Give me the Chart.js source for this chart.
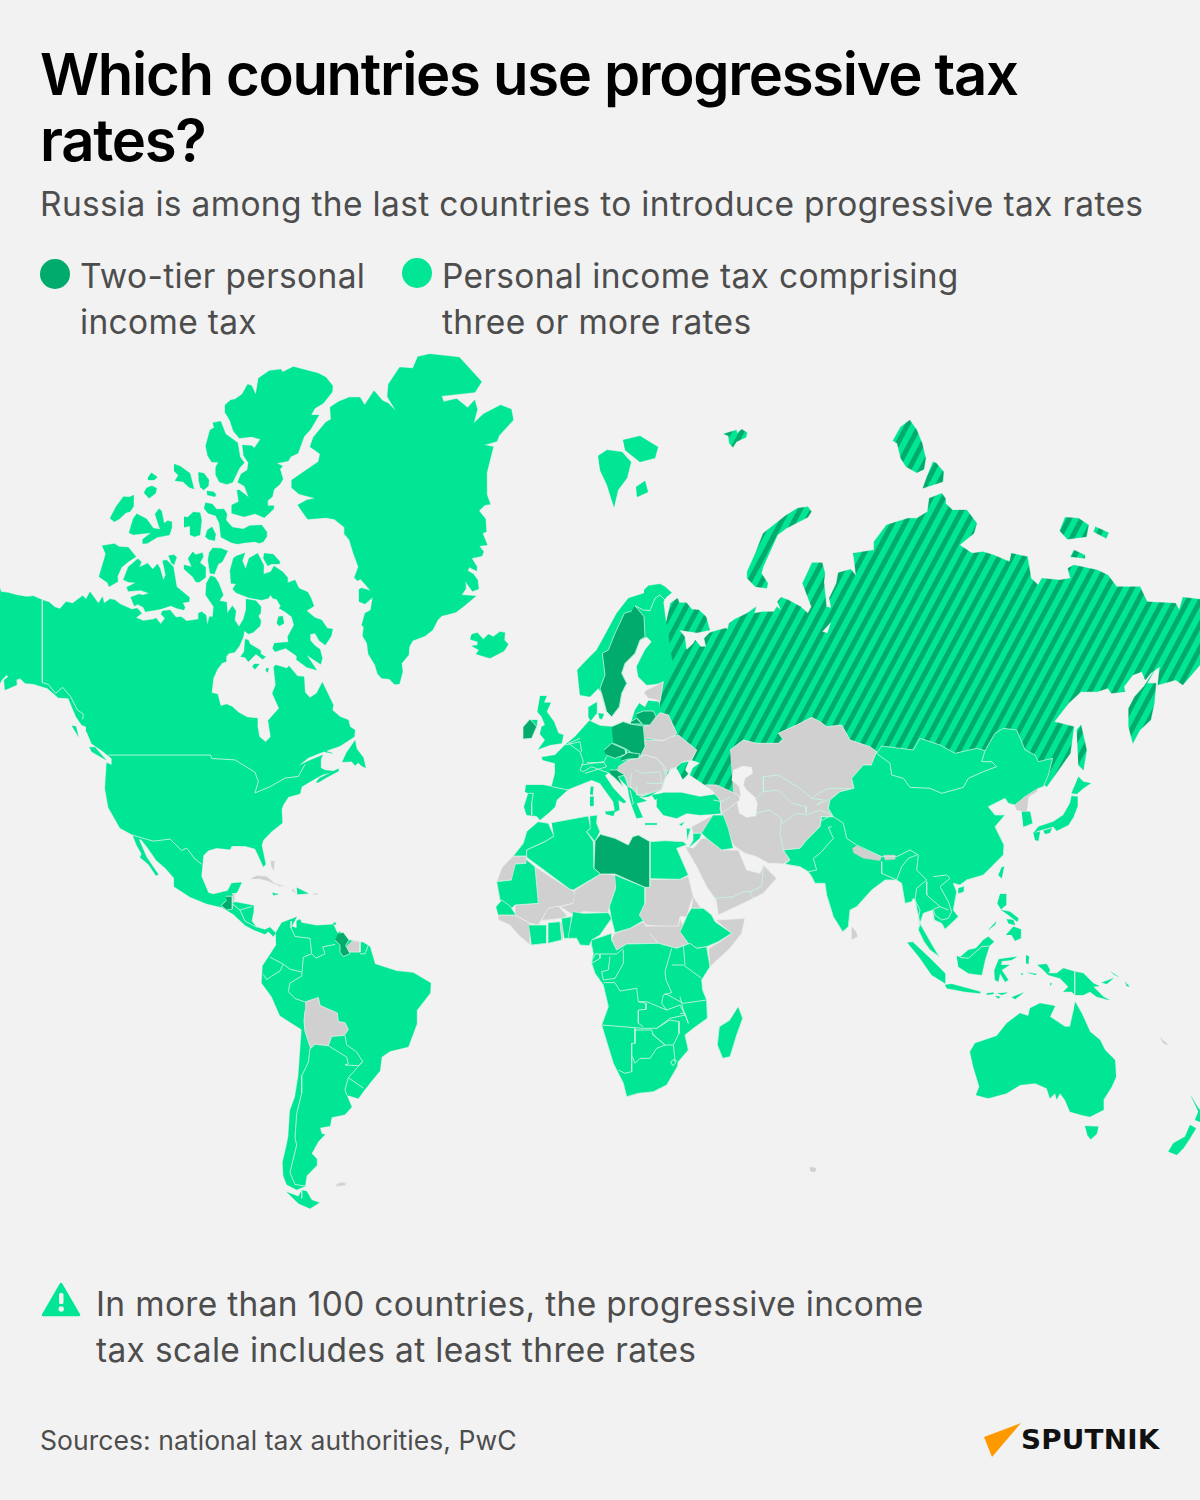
<!DOCTYPE html>
<html>
<head>
<meta charset="utf-8">
<title>Which countries use progressive tax rates?</title>
<script src="https://cdn.jsdelivr.net/npm/chart.js@4"></script>
<style>
  html, body { margin: 0; padding: 0; background: #F2F2F2; }
  #page { position: relative; width: 1200px; height: 1500px; overflow: hidden; background: #F2F2F2; font-family: Inter, sans-serif; color: #4D4D4D; }
  .t { position: absolute; white-space: nowrap; margin: 0; }
  h1.t { font-size: 58px; font-weight: 600; color: #000; line-height: 66px; letter-spacing: -1.31px; }
  .big { font-size: 33.5px; line-height: 46px; font-weight: 400; letter-spacing: 0.33px; }
  .dot { position: absolute; width: 30px; height: 30px; border-radius: 50%; }
  canvas { position: absolute; left: 0; top: 340px; }
  svg { position: absolute; }
</style>
</head>
<body>
<div id="page">
  <h1 class="t" style="left:40px;top:41px">Which countries use progressive tax<br>rates?</h1>
  <p class="t big" id="sub" style="left:40px;top:181px">Russia is among the last countries to introduce progressive tax rates</p>
  <div class="dot" style="left:40px;top:259px;background:#00AB6C"></div>
  <p class="t big" style="left:80px;top:253px">Two-tier personal<br>income tax</p>
  <div class="dot" style="left:402px;top:258px;background:#00E695"></div>
  <p class="t big" style="left:442px;top:253px">Personal income tax comprising<br>three or more rates</p>
  <canvas id="mapa" width="1200" height="880"></canvas>
  <svg style="left:42px;top:1282px" width="40" height="36" viewBox="0 0 40 36">
    <path d="M19 2 L37 33 L1 33 Z" fill="#00E695" stroke="#00E695" stroke-width="2.5" stroke-linejoin="round"/>
    <rect x="17" y="11" width="4.5" height="11" rx="1.5" fill="#F2F2F2"/>
    <circle cx="19.2" cy="27" r="2.7" fill="#F2F2F2"/>
  </svg>
  <p class="t big" style="left:96px;top:1281px">In more than 100 countries, the progressive income<br>tax scale includes at least three rates</p>
  <p class="t" style="left:40px;top:1424px;font-size:26.5px;line-height:32px;letter-spacing:0.06px">Sources: national tax authorities, PwC</p>
  <svg style="left:980px;top:1420px" width="46" height="40" viewBox="0 0 46 40"><path d="M4 17 L41 3 L12 37 Z" fill="#FF9900"/></svg>
  <div class="t" style="left:1021px;top:1423px;font:bold 27px/34px 'DejaVu Sans';color:#111;letter-spacing:0.2px;transform-origin:left top;transform:scaleX(1.03)">SPUTNIK</div>
</div>
<script>
const cropArctic = [0, 350, 3, 3];
const cropAmericas = [0, 680, 3, 2.904];
const cropEurope = [500, 570, 3, 3];
const cropAfrica = [480, 800, 3, 3];
const cropRussia = [640, 410, 2.8, 3];
const cropAsia = [700, 710, 3, 3];
const cropOceania = [900, 880, 3, 3];
const cropMap = [0, 0, 1, 1];

const traced = (crop, flat) => {
    const pts = [];
    for (let i = 0; i < flat.length; i += 2) {
        pts.push({ x: crop[0] + flat[i] / crop[2], y: crop[1] + flat[i + 1] / crop[3] });
    }
    return pts;
};
const several = (crop, lists) => lists.map(l => traced(crop, l));

const greenland = [1253,20,1290,12,1378,22,1445,95,1425,127,1325,138,1331,155,1370,146,1403,173,1424,150,1432,178,1421,220,1450,192,1502,165,1534,178,1540,210,1497,257,1491,274,1453,285,1480,290,1460,370,1460,432,1471,463,1455,465,1437,482,1457,507,1459,545,1448,550,1462,585,1438,588,1451,605,1446,618,1415,625,1431,650,1430,663,1408,652,1403,662,1420,672,1433,690,1436,717,1417,724,1395,692,1397,717,1385,735,1428,738,1396,765,1368,787,1325,798,1313,810,1298,840,1275,858,1238,872,1228,890,1226,915,1205,940,1208,965,1198,1002,1183,1003,1168,987,1145,985,1133,972,1125,945,1105,912,1101,880,1088,858,1091,832,1085,825,1095,790,1112,780,1118,742,1095,762,1078,755,1077,718,1085,714,1112,722,1082,688,1072,692,1063,683,1075,650,1060,610,1048,570,1034,553,1033,532,1003,508,978,503,923,508,910,490,893,465,920,450,945,445,897,432,873,412,875,390,955,335,960,312,930,290,940,262,977,217,993,208,990,172,1015,155,1048,142,1080,142,1094,165,1122,122,1148,152,1165,160,1188,183,1162,140,1165,103,1199,52,1238,55];
const iceland = [1415,853,1432,848,1450,868,1465,853,1480,860,1500,845,1515,848,1513,870,1525,883,1512,903,1470,925,1428,912,1437,900,1415,888,1433,885,1433,875,1410,868];
const arcticIslands = [
    [775,85,808,62,843,58,848,66,880,50,955,70,978,82,998,107,996,127,970,160,945,175,933,195,957,195,932,238,912,260,894,310,872,320,865,333,830,340,848,348,840,358,849,387,840,403,822,418,817,440,802,453,803,467,822,467,821,477,793,503,765,491,732,500,695,490,695,465,716,455,711,420,718,420,746,442,733,408,713,397,723,372,742,360,745,338,731,317,727,285,755,287,763,294,781,268,755,260,718,265,700,243,690,212,677,190,675,165,692,150,705,148,726,133,743,103,755,107,767,133],
    [638,218,662,214,677,252,713,278,720,320,733,338,718,355,698,397,680,403,658,396,647,375,647,352,655,337,635,336,623,317,617,288,630,240,642,233],
    [522,342,541,349,570,370,582,417,567,412,549,395,525,392,535,376,522,363],
    [595,367,612,370,627,390,625,408,611,420,601,412,596,390],
    [620,423,640,425,648,433,645,440,622,435],
    [454,368,472,381,463,390,445,390,444,382],
    [455,407,470,415,467,430,447,445,432,428,440,413],
    [401,435,400,470,390,485,378,488,358,507,343,515,330,505,348,470,370,440,388,441],
    [410,491,440,507,460,535,480,538,465,492,477,476,485,483,492,520,503,512,515,515,515,535,508,555,472,562,442,580,428,581,428,568,453,548,400,554,387,548,400,505],
    [552,500,563,502,580,486,600,488,605,510,600,555,583,560,572,555,570,528,552,532],
    [616,458,637,462,650,478,672,477,681,492,678,510,697,532,730,537,748,527,785,525,800,545,800,560,790,575,778,580,765,575,735,578,712,582,695,578,663,562,658,520,647,497,624,490,612,475],
    [636,530,647,553,644,572,625,568,616,560,622,540],
    [306,587,343,581,358,590,385,592,408,620,385,635,365,652,352,680,353,695,327,710,323,698,297,680,317,612],
    [413,626,424,635,418,652,443,640,458,658,472,642,480,655,490,690,497,675,488,632,500,630,520,650,530,710,568,742,567,755,548,758,555,772,552,780,530,775,513,767,480,778,436,785,430,772,413,763,403,768,392,742,415,733,430,735,447,730,422,721,385,724,380,712,407,698,385,696,370,689,385,650],
    [505,617,522,614,530,622,522,645,513,637],
    [578,605,587,614,607,608,610,620,600,638,617,652,616,683,597,697,587,695,578,680,552,657,552,645,575,650,564,625],
    [638,594,662,595,683,603,667,635,655,642,643,672,630,670,624,630,628,607],
    [735,608,727,632,737,657,747,625,773,610,791,645,790,673,812,665,822,648,848,665,862,682,863,698,885,690,897,715,923,726,932,742,942,768,920,782,945,803,965,810,982,835,998,837,994,857,976,885,958,872,945,850,930,853,930,870,945,887,960,898,967,925,962,943,920,915,950,960,920,952,888,928,890,918,857,895,825,905,818,895,823,880,865,876,863,860,882,825,875,800,855,785,837,775,842,768,830,748,818,745,812,735,805,745,785,750,747,743,708,728,698,717,708,702,693,700,690,662,700,625,710,617],
    [792,610,820,613,840,635,838,642,815,642,803,647,790,625],
    [835,800,848,798,852,820,838,828,830,820],
    [735,868,745,870,750,882,780,900,782,912,797,920,788,928,768,912,745,935,735,922,722,920,732,905],
    [762,942,778,942,765,958,757,950],
    [798,955,806,955,803,967,797,963]
];
// mainland North America is stitched from two crops
const northAmericaArctic = [0,715,3,725,25,728,50,735,80,740,100,738,127,750,148,757,165,772,180,776,198,755,218,760,248,737,258,748,270,725,295,760,308,740,312,760,330,747,345,750,360,762,395,778,412,775,425,790,408,803,430,812,460,808,468,804,482,822,495,805,483,793,487,783,510,780,528,802,543,800,560,813,596,808,595,790,605,785,618,795,622,825,628,800,638,800,641,770,617,735,619,700,632,677,645,682,655,697,670,735,658,752,680,757,682,790,697,767,708,783,704,810,717,830,730,808,738,780,738,747,768,752,783,770,782,790,775,798,783,812,780,828,760,847,745,852,733,842,730,860,718,888,704,907,687,910,678,920,678,935,667,938,652,958,640,985,635,1028,653,1033,662,1068,680,1063,697,1070,717,1088,742,1102,772,1105,772,1125,778,1160,797,1176,812,1160,805,1114,803,1113,837,1075,817,1030,827,1005,821,950,828,945,860,955,867,948,892,978,912,980,915,1027,930,1043,950,1030,967,997,1000,1065,997,1080,1020,1100,1045,1110,1050,1130,1065,1140];
const northAmericaSouth = [1063,165,1020,192,960,212,925,226,895,250,925,235,968,218,962,232,962,255,975,262,1005,265,968,275,948,285,905,310,900,330,865,340,850,362,845,375,847,415,815,440,790,465,785,480,797,535,790,542,775,510,765,490,735,482,695,482,690,492,650,488,625,495,610,510,604,570,625,618,640,622,683,612,695,590,725,588,712,615,698,628,705,645,760,655,760,675,755,700,770,718,795,725,810,718,827,735,820,745,805,730,795,738,760,725,735,712,700,680,665,660,620,650,570,630,522,600,522,575,495,545,470,525,445,490,425,465,416,462,440,515,475,565,468,568,445,535,420,515,425,505,410,480,398,450,360,430,325,370,315,315,320,240,335,247,335,228,305,205,275,185,260,150];
const alaskaCoast = [258,1130,245,1125,228,1100,205,1045,175,1043,142,1015,100,1002,75,1000,60,985,48,990,50,1005,15,1020,12,990,25,980,20,975,5,990,0,1000];
const americasMint = [
    [268,195,285,195,318,232,300,222,275,208],
    [948,298,958,285,1015,258,1015,265,980,283,955,298],
    [1065,175,1070,200,1090,225,1097,255,1085,250,1075,240,1065,248,1055,237,1027,238,1040,210],
    [973,205,998,213,975,209],
    [215,133,228,135,235,165],
    [890,603,925,620,892,622],
    [817,618,835,622,820,625],
    [1000,705,1007,705,1007,710,1000,710],
    [827,735,845,705,890,688,875,715,888,720,890,700,900,695,905,705,950,713,1000,710,1012,735,1020,730,1045,755,1090,762,1110,775,1125,825,1190,845,1240,850,1292,880,1290,910,1250,960,1250,1000,1225,1065,1170,1078,1145,1095,1140,1135,1110,1170,1090,1195,1075,1215,1040,1205,1055,1240,1035,1262,995,1270,990,1295,960,1300,965,1318,975,1320,955,1340,935,1375,950,1390,950,1410,920,1440,915,1470,890,1480,860,1465,850,1440,848,1400,860,1350,865,1325,870,1250,885,1210,895,1150,905,1015,840,975,815,920,785,880,788,830,815,790,828,770],
    [860,1487,895,1500,905,1482,920,1485,935,1510,958,1518,930,1535,895,1520]
];
const americasGrey = [
    [750,578,770,567,800,570,825,590,860,600,840,600,805,585,775,578],
    [880,605,890,622,875,612],
    [940,619,955,619,955,624,940,624],
    [812,525,825,525,822,555,815,545],
    [697,620,707,620,705,645,697,645],
    [1055,758,1080,758,1080,790,1045,790,1038,775],
    [915,935,955,922,960,945,1012,967,1015,992,1035,995,1045,1015,1033,1032,995,1035,985,1062,945,1058,932,1070,915,1020,912,990,915,960],
    [1008,1465,1022,1458,1038,1460,1038,1468,1020,1470,1010,1470]
];
const americasDark = [
    [677,628,697,628,697,665,680,668,663,655,680,640],
    [1015,735,1030,733,1047,755,1037,770,1050,795,1030,803,1020,790,1020,770,1005,755]
];
const americasBorders = [
    [325,218,632,218,635,228,705,232,765,268,775,295,765,328,810,310,855,285,895,280,915,245],
    [395,450,460,468,510,462,545,495,560,488,585,520,605,535],
    [697,650,720,668,755,658],
    [720,668,735,700,745,705,770,718],
    [875,700,873,720,885,745,930,750,935,795,948,808,975,795,968,775,1005,768],
    [935,795,910,805,905,860,870,880,865,905,885,925,915,935],
    [810,805,850,825,870,840,905,848],
    [850,825,840,845,815,860,800,870,790,855],
    [930,1070,925,1110,905,1150,905,1200,890,1260,885,1330,890,1350,870,1430,885,1465,920,1470],
    [985,1062,1040,1095,1045,1115,1035,1118,1075,1120,1088,1108,1070,1080,1040,1060,1035,1032],
    [1088,1108,1045,1155,1035,1190,1040,1205],
    [1045,1155,1090,1185],
    [1105,770,1095,795,1080,795],
    [905,1482,905,1505]
];
const alaskaBorder = [127,750,127,998,145,1003,167,1030,188,1012,212,1040,232,1080,250,1092,248,1108];

const scandinavia = [432,60,445,47,480,42,495,50,515,68,500,80,490,95,497,150,505,190,510,240,520,285,495,320,485,340,440,345,415,320,410,290,435,240,455,215,440,200,420,210,405,250,375,280,365,310,380,340,365,370,358,410,335,440,320,425,305,370,295,355,270,380,240,375,232,300,260,270,290,240,315,195,350,130,385,85,432,70];
const europeMain = [125,562,165,555,195,525,225,500,245,478,268,452,300,467,335,470,370,455,392,462,405,420,418,400,435,412,445,392,475,395,485,425,525,470,535,495,590,540,575,570,548,575,530,590,510,598,495,625,483,660,470,665,445,680,430,682,415,680,440,692,410,700,428,742,410,745,395,705,388,680,383,650,345,612,325,608,315,617,340,655,378,695,372,700,355,690,358,720,345,725,340,695,300,640,275,630,250,640,205,658,170,690,165,710,150,725,120,750,110,738,80,735,72,710,85,670,75,665,78,645,130,645,155,650,165,610,165,580,128,570];
const turkey = [470,680,490,668,545,668,600,680,655,672,660,695,670,730,600,735,560,730,530,745,490,735,470,710];
const europeMint = [
    [120,378,140,378,132,398,152,398,140,425,162,455,175,490,190,495,185,520,150,525,115,538,135,510,120,492,125,470,135,465,125,440,112,425],
    [95,450,112,450,110,468,97,465],
    [265,412,290,397,290,430,272,452,265,440],
    [295,430,312,432,305,448,298,445],
    [315,725,345,722,340,738,318,732],
    [270,680,280,680,280,708,270,708],
    [272,650,280,650,278,675,270,672],
    [435,760,470,760,470,764,435,764],
    [455,675,490,670,465,690]
];
const europeGrey = [
    [440,360,490,335,480,395,470,390,445,385,432,370],
    [430,468,450,465,468,440,480,428,505,435,530,490,510,510,490,512,440,505,435,510],
    [435,510,490,512,515,500,535,495,590,540,575,570,548,575,530,590,510,598,495,612,470,565,435,555,420,560],
    [355,590,385,570,415,565,435,555,470,565,495,590,500,612,490,640,483,660,450,670,425,680,415,675,395,655,385,650,375,620,350,600],
    [615,645,650,645,700,668,715,675,720,690,665,730,660,690,635,660]
];
const europeDark = [
    [405,107,432,140,435,200,420,210,405,250,375,280,365,310,380,340,365,370,358,410,335,440,320,425,305,370,300,355,315,315,307,250,325,240,345,190,373,130,395,123],
    [70,470,90,447,110,470,95,505,70,507],
    [408,432,430,423,460,423,468,440,450,465,430,465,412,445],
    [392,455,410,445,425,462,395,462],
    [335,470,370,455,390,462,430,468,435,530,420,560,395,548,375,535,340,520],
    [312,540,335,520,375,538,378,552,345,565,318,555],
    [362,562,385,547,420,552,415,565,385,567,365,573],
    [330,600,350,600,375,615,355,620,370,650,345,625,330,612]
];
const europeBorders = [
    [405,107,430,120,450,122,465,85,480,75,495,90],
    [155,650,205,660],
    [85,670,100,670,95,700,95,735],
    [240,505,205,520,240,545,250,575,240,600,250,605],
    [195,525,240,515,245,545],
    [245,585,310,575,320,590,255,610],
    [250,605,275,590,300,600,325,608],
    [260,578,310,578,320,560],
    [390,660,400,700,395,705],
    [410,650,410,675,450,670],
    [405,600,430,610,480,605,485,640],
    [395,610,390,650,400,655],
    [470,565,490,590,495,612],
    [440,640,490,640],
    [640,690,665,695,690,680]
];

const africaMint = [
    [175,65,205,70,222,108,195,125,140,150,140,168,100,168,130,130,140,95],
    [215,68,325,48,332,85,320,95,340,125,342,205,362,222,280,270,270,268,140,172,140,150,195,125,222,108],
    [330,48,352,45,350,70,360,95,345,125,320,95,332,85],
    [510,125,555,122,610,125,620,135,590,145,625,225,600,238,510,236],
    [107,192,138,190,138,178,165,200,175,310,105,315,95,325,60,300,50,245,95,240],
    [48,320,65,300,90,318,108,345,55,345],
    [147,375,200,375,200,430,155,435],
    [205,368,240,365,245,420,205,430],
    [245,355,275,350,265,415,253,415],
    [280,335,310,340,385,338,395,355,360,405,335,420,328,437,300,435,290,415,265,415],
    [405,225,495,262,495,310,478,345,490,362,450,385,405,398,395,360,388,320,408,262],
    [635,325,670,325,695,345,705,365,755,400,715,425,680,440,650,445,625,430,600,395,620,350],
    [335,420,395,400,395,420,410,450,440,432,535,430,590,445,630,430,650,445,680,440,690,500,665,540,668,570,680,600,682,655,640,685,615,705,625,750,595,785,592,800,560,855,520,875,475,880,440,890,430,850,400,790,365,675,385,620,370,555,345,520,335,490,340,460,335,437],
    [775,620,788,655,770,705,750,770,728,775,712,735,718,680,750,660],
    [700,45,730,45,745,85,760,145,725,150,680,115,665,100],
    [640,100,665,100,660,115,625,145,640,120],
    [620,85,632,85,622,120],
    [597,72,615,65,605,78]
];
const africaGrey = [
    [100,168,140,168,140,190,107,192,95,240,50,245,65,205],
    [510,238,600,238,625,228,640,290,632,310,620,350,600,350,595,380,550,380,497,375,478,345,490,315,497,310,495,262,510,262],
    [165,200,270,268,285,275,280,310,240,320,205,325,175,375,150,370,105,345,105,315,175,310],
    [285,270,362,222,405,225,408,262,388,320,385,338,310,335,280,345,240,320,280,310],
    [205,325,235,318,262,348,245,355,185,362],
    [55,345,105,345,150,370,150,400,152,435,115,405,90,375,55,360],
    [240,365,250,370,250,415,245,420],
    [395,415,405,400,450,385,490,365,510,395,535,430,440,432,410,450],
    [495,378,595,378,600,355,625,410,630,430,590,445,535,430,510,400],
    [640,290,660,320,695,345,670,325,635,325],
    [708,360,795,355,785,400,750,445,690,500,685,445,720,425,755,400],
    [615,140,650,200,680,260,708,300,715,345,800,305,850,280,890,235,850,195,840,220,800,210,775,150,760,150,725,150,680,115,665,115,640,145],
    [635,80,700,45,665,100,640,100],
    [535,825,550,815,558,825,545,840,532,835],
    [558,515,572,510,570,535,560,538]
];
const libya = [362,103,405,115,445,135,458,110,475,105,510,125,510,262,495,262,405,222,362,222,342,205,345,125];
const africaBorders = [
    [340,475,345,462,360,462,410,462,430,445],
    [360,462,360,475,335,490],
    [390,470,385,510,365,515,370,540,405,535,430,490,430,450],
    [575,445,555,515,558,540,575,578,550,585,545,610,560,630,500,605,475,605,470,565,420,573,405,548,370,548],
    [365,675,490,685,530,685],
    [475,605,498,610,498,628,475,630,475,670,490,680],
    [530,685,570,655,615,645,600,615,560,630],
    [575,495,610,495,665,535],
    [555,580,610,610,680,600],
    [610,435,615,495],
    [600,590,610,630,625,670,615,640,600,640],
    [530,685,570,660,597,665,597,700,580,735,555,735,515,700],
    [465,685,465,730,455,730,455,815,435,820,415,810],
    [465,690,515,690,520,705,555,735,530,745,510,775,480,775,465,790,457,770],
    [580,735,585,780,592,785],
    [572,785,582,778,587,790,578,797,572,785],
    [705,295,760,290,790,275,810,275,820,300],
    [810,275,845,260,850,200]
];

const russiaMain = [85,580,105,565,110,578,130,578,145,598,165,600,185,620,195,660,160,668,110,660,125,680,130,720,150,700,155,690,170,710,185,710,180,685,195,668,220,660,240,655,245,658,250,640,265,628,300,610,325,590,320,610,345,605,375,605,383,590,395,600,385,575,395,562,415,570,450,590,470,610,480,590,455,520,482,458,510,458,518,490,515,515,522,590,540,595,540,630,510,665,525,670,540,620,530,565,550,520,555,488,590,478,605,497,597,430,655,420,655,395,690,345,750,325,775,325,805,305,810,265,845,250,855,265,855,280,875,300,915,300,943,340,935,370,895,405,930,430,960,425,990,435,1035,455,1040,430,1085,440,1095,505,1115,525,1125,505,1175,510,1205,505,1198,475,1215,465,1280,480,1310,495,1335,530,1400,530,1420,575,1500,580,1510,600,1520,562,1568,568,1568,765,1520,825,1500,810,1450,825,1455,770,1430,790,1415,810,1405,785,1380,795,1355,830,1358,845,1320,850,1310,835,1280,845,1235,845,1200,880,1160,935,1215,950,1205,1030,1139,1130,1100,1100,700,1100,260,1149,190,1131,140,1095,148,1074,168,1059,120,1040,84,1020,56,906,55,815,60,700];
const russiaIslands = [
    [755,30,775,60,790,100,800,145,795,178,775,188,745,170,730,145,720,100,708,92,730,50],
    [820,155,830,160,850,185,848,215,792,235,805,195],
    [1190,322,1228,325,1256,345,1250,380,1197,388,1175,362],
    [1275,350,1312,368,1305,385,1270,365],
    [1215,420,1245,435,1245,445,1205,440],
    [233,72,270,60,272,70,285,58,300,68,297,82,270,95,260,112,250,100,248,78],
    [440,295,470,290,480,305,470,322,410,355,385,375,345,470,340,490,358,520,355,535,323,530,300,505,300,485,323,430,345,370,410,315],
    [1448,768,1420,820,1445,820,1440,880,1430,930,1400,960,1380,1000,1368,950,1368,895,1385,860,1410,830]
];
const russiaEuropean = [[530,595,540,580,565,575,555,600,565,612,548,628]];
const sakhalin = [1130,60,1143,45,1160,120,1150,180,1135,165];

const centralAsia = [90,120,130,90,170,100,235,100,250,88,235,70,290,45,335,22,360,35,380,50,425,45,450,90,510,110,530,125,515,165,490,165,455,205,462,235,420,245,390,270,385,295,400,320,365,320,360,350,320,390,300,415,250,420,270,450,250,462,205,460,170,440,135,430,105,410,75,365,60,295,65,260,55,240,30,225,45,230,70,250,100,255];
const caspian = [100,180,130,168,155,172,158,190,135,205,130,225,140,240,165,262,172,280,168,318,140,322,118,310,112,280,122,255,118,230,95,210];
const eastAsia = [530,130,545,108,640,120,660,85,720,105,765,130,830,115,855,122,885,70,910,55,950,60,975,120,1005,135,1015,155,1058,145,1045,195,1030,230,1015,235,975,260,945,285,925,280,915,265,865,290,885,315,915,315,885,350,912,405,910,435,875,470,850,495,800,510,780,525,760,520,770,545,760,600,775,620,735,658,725,640,703,630,698,600,670,610,660,640,680,675,700,710,718,740,690,720,672,695,655,660,660,640,645,570,640,565,635,575,615,580,605,520,590,510,555,510,515,540,470,590,450,600,445,650,428,665,400,620,380,555,375,520,345,520,335,500,325,485,300,470,270,465,255,462,270,450,250,420,300,415,320,390,360,350,365,320,400,320,385,295,390,270,420,245,462,235,455,205,490,165,515,165];
const asiaMint = [
    [965,305,990,305,997,340,970,350],
    [1135,200,1150,215,1172,220,1150,235,1130,252,1115,250,1122,232],
    [1000,370,1015,350,1060,335,1090,315,1110,280,1115,258,1132,260,1132,290,1120,322,1105,345,1070,362,1060,350,1015,362],
    [1000,368,1020,365,1015,392,1005,390],
    [1030,362,1055,355,1050,368,1035,372],
    [905,472,912,470,905,505,895,495],
    [775,535,792,530,790,545,775,550]
];
const asiaGrey = [
    [1015,235,975,260,945,285,950,300,980,305,985,260,1010,245],
    [457,415,470,407,545,440,540,452,490,445,460,428],
    [550,435,585,435,585,448,555,450],
    [455,650,468,665,472,680,455,688]
];
const asiaBorders = [
    [530,130,570,160,575,195,610,205,630,232,690,235,725,250,790,232,805,205,850,185,890,170,875,155,845,155,855,122],
    [360,320,400,320,430,340,440,385,470,405,545,440,590,440,630,420,655,435,650,480,680,510],
    [395,350,385,352,400,385,360,430,340,445,350,480,325,485],
    [680,510,650,535,645,570,660,600,655,625,660,650],
    [680,515,680,555,720,590,745,600],
    [700,500,740,495,750,505,720,530,745,575,755,605,745,625,725,630,705,615,700,598,720,590],
    [545,455,545,490,580,505,590,510,605,470,625,445,650,435],
    [190,200,235,195,300,235,335,265,355,250,385,235,450,235],
    [190,200,190,245,165,270],
    [190,245,235,240,275,280,320,290,318,310],
    [165,310,210,300,245,325,240,370,250,420],
    [245,340,290,310,320,315,360,300,395,315,360,335],
    [335,265,370,270,350,285,385,270]
];

const australia = [525,365,545,400,570,455,600,480,615,510,645,540,648,590,635,620,610,660,610,690,570,710,545,705,510,695,495,660,480,640,470,658,465,640,450,655,440,625,405,610,360,615,320,640,265,655,228,645,238,620,220,560,210,515,225,490,290,468,320,430,360,400,385,408,390,385,420,370,465,378,450,410,495,440,510,440,520,395];
const oceaniaMint = [
    [555,738,595,740,590,762,572,778,562,765],
    [805,815,820,790,855,770,870,735,888,745,870,775,850,805,830,825],
    [873,648,892,680,900,690,900,725,885,720,895,695],
    [300,42,318,42,318,75,303,88,292,70],
    [318,165,340,140,362,148,362,175,345,182,335,165],
    [320,118,340,120,345,135,325,130],
    [303,90,330,95,355,115,352,125,325,105],
    [265,150,288,125,285,135],
    [170,228,180,232,205,210,228,205,250,180,265,170,282,185,268,198,255,240,245,285,205,280,175,260],
    [296,238,350,230,335,240,305,243,303,255,328,255,305,270,325,300,315,305,300,280,295,305,285,300,283,270],
    [22,188,38,186,90,235,135,280,135,310,95,285,60,235],
    [135,315,155,312,240,335,240,340,195,335,140,325],
    [260,340,280,338,280,342,260,344],
    [292,340,322,338,305,345],
    [285,348,300,350,295,356],
    [335,352,370,338,345,358],
    [378,225,387,230,385,252,378,250],
    [362,280,370,282,365,285],
    [382,278,410,282,405,285],
    [450,310,455,310,452,318],
    [412,255,440,252,450,270,445,280,470,280,490,265,525,275,550,280,580,310,597,318,580,320,610,350,628,360,590,350,570,335,550,345,525,345,515,335,490,335,505,320,480,295,445,285,430,270],
    [605,308,640,295,620,312],
    [632,275,655,290,640,282],
    [675,305,688,320,680,318]
];
const oceaniaGrey = [[780,472,805,495,790,490]];
const oceaniaBorders = [[524,275,524,345], [180,232,205,235,245,200,268,198]];
const svalbard = [
    [598,456,607,450,622,452,631,462,627,478,618,490,614,507,607,485,600,470],
    [623,440,640,436,658,447,655,458,640,462,625,450],
    [636,487,645,481,648,492,637,497]
];
const speckGrey = [[810,1167,816,1168,815,1172,810,1171]];

const MINT = "#00E695";
const DARK = "#00AB6C";
const GREY = "#D0D0D0";
const FONDO = "#F2F2F2";
const SOFT = "#C6F4DE";
const GREYLINE = "#EDEDED";

function rayas() {
    const tile = document.createElement("canvas");
    tile.width = 22;
    tile.height = 22;
    const c = tile.getContext("2d");
    c.fillStyle = MINT;
    c.fillRect(0, 0, 22, 22);
    c.fillStyle = DARK;
    c.fillRect(0, 0, 5, 22);
    c.fillRect(11, 0, 5, 22);
    const p = document.getElementById("mapa").getContext("2d").createPattern(tile, "repeat");
    p.setTransform(new DOMMatrix().translate(3, 0).rotate(28));
    return p;
}
const hatch = rayas();

const poly = (pts, fillColor, line) => ({
    type: "scatter", data: pts, showLine: true, fill: "shape",
    backgroundColor: fillColor, borderColor: line || fillColor,
    borderWidth: line ? 0.8 : 0.3, pointRadius: 0, tension: 0
});
const border = (pts, color) => ({
    type: "scatter", data: pts, showLine: true, fill: false,
    borderColor: color, borderWidth: 0.9, pointRadius: 0, tension: 0
});

// painted bottom to top
const capas = [
    poly(traced(cropRussia, russiaMain), hatch),
    ...several(cropRussia, russiaIslands).map(p => poly(p, hatch)),
    ...several(cropEurope, russiaEuropean).map(p => poly(p, hatch)),
    poly(traced(cropAsia, sakhalin), hatch),

    poly(traced(cropArctic, greenland), MINT),
    poly(traced(cropArctic, iceland), MINT),
    ...several(cropArctic, arcticIslands).map(p => poly(p, MINT)),
    poly([...traced(cropArctic, northAmericaArctic), ...traced(cropAmericas, northAmericaSouth), ...traced(cropArctic, alaskaCoast)], MINT),
    ...several(cropAmericas, americasMint).map(p => poly(p, MINT)),
    ...several(cropMap, svalbard).map(p => poly(p, MINT)),

    poly(traced(cropEurope, scandinavia), MINT),
    poly(traced(cropEurope, europeMain), MINT),
    poly(traced(cropEurope, turkey), MINT),
    ...several(cropEurope, europeMint).map(p => poly(p, MINT)),

    poly(traced(cropAsia, centralAsia), GREY, GREYLINE),
    poly(traced(cropAsia, caspian), FONDO),
    poly(traced(cropAsia, eastAsia), MINT, SOFT),
    ...several(cropAsia, asiaMint).map(p => poly(p, MINT)),
    ...several(cropAsia, asiaGrey).map(p => poly(p, GREY)),

    ...several(cropAfrica, africaGrey).map(p => poly(p, GREY, GREYLINE)),
    ...several(cropAfrica, africaMint).map(p => poly(p, MINT, SOFT)),
    poly(traced(cropOceania, australia), MINT),
    ...several(cropOceania, oceaniaMint).map(p => poly(p, MINT)),
    ...several(cropOceania, oceaniaGrey).map(p => poly(p, GREY)),
    ...several(cropMap, speckGrey).map(p => poly(p, GREY)),

    ...several(cropEurope, europeGrey).map(p => poly(p, GREY, GREYLINE)),
    ...several(cropAmericas, americasGrey).map(p => poly(p, GREY, GREYLINE)),
    ...several(cropAmericas, americasDark).map(p => poly(p, DARK, SOFT)),
    ...several(cropEurope, europeDark).map(p => poly(p, DARK, SOFT)),
    poly(traced(cropAfrica, libya), DARK, SOFT),

    border(traced(cropArctic, alaskaBorder), SOFT),
    ...several(cropAmericas, americasBorders).map(p => border(p, SOFT)),
    ...several(cropEurope, europeBorders).map(p => border(p, SOFT)),
    ...several(cropAfrica, africaBorders).map(p => border(p, SOFT)),
    ...several(cropAsia, asiaBorders).map(p => border(p, SOFT)),
    ...several(cropOceania, oceaniaBorders).map(p => border(p, SOFT))
];

// Chart.js paints the first dataset last
new Chart(document.getElementById("mapa"), {
    type: "scatter",
    data: { datasets: capas.slice().reverse() },
    options: {
        responsive: false,
        animation: false,
        layout: { padding: 0 },
        plugins: { legend: { display: false }, tooltip: { enabled: false }, title: { display: false } },
        scales: {
            x: { type: "linear", display: false, min: 0, max: 1200 },
            y: { type: "linear", display: false, min: 340, max: 1220, reverse: true }
        }
    }
});
</script>
</body>
</html>
